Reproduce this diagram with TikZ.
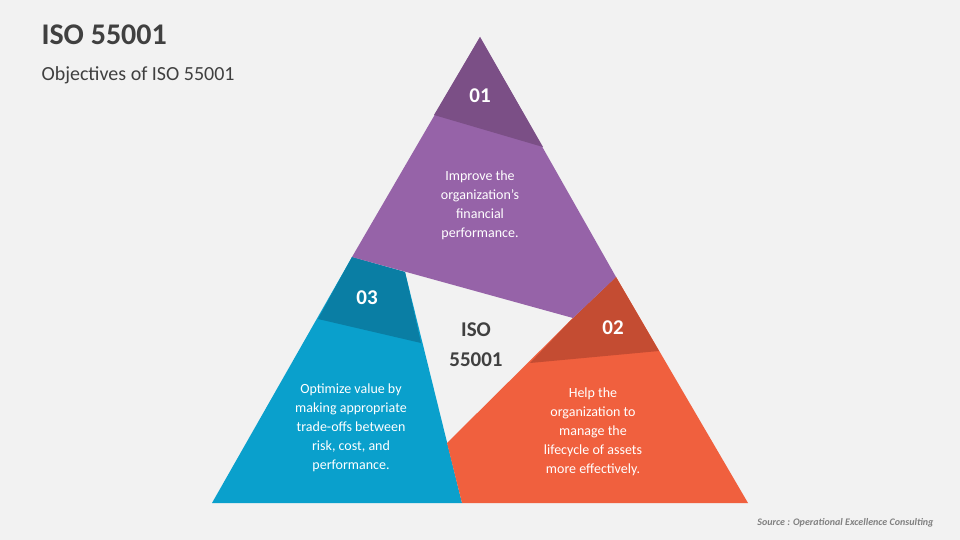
\documentclass[tikz,border=0pt]{standalone}
\usepackage{fontspec}
\setmainfont{Carlito}
\begin{document}
\begin{tikzpicture}[x=1pt,y=-1pt,
  body/.style={text=white,align=center,font=\fontsize{14}{19}\selectfont},
  num/.style={text=white,font=\bfseries\fontsize{21}{24}\selectfont}]
\definecolor{bg}{HTML}{F2F2F2}
\definecolor{pd}{HTML}{7B4F86}\definecolor{pl}{HTML}{9663A8}
\definecolor{bd}{HTML}{0A7EA4}\definecolor{bl}{HTML}{0AA0CC}
\definecolor{od}{HTML}{C44C32}\definecolor{ol}{HTML}{F0603E}
\definecolor{tx}{HTML}{404040}
\fill[bg] (0,0) rectangle (960,540);
\useasboundingbox (0,0) rectangle (960,540);
% blue
\fill[bl] (352,257) -- (405,272) -- (462,503) -- (212,503) -- cycle;
\fill[bd] (352,257) -- (405,272) -- (421,343) -- (318,319) -- cycle;
% orange
\fill[ol] (616,277) -- (748,503) -- (462,503) -- (447,443) -- (573,318) -- cycle;
\fill[od] (616,277) -- (659,351) -- (530,363) -- (573,318) -- cycle;
% purple
\fill[pl] (480,37) -- (616,277) -- (573,318) -- (352,257) -- cycle;
\fill[pd] (480,37) -- (543,147) -- (434,115) -- cycle;
\node[anchor=west,text=tx,font=\bfseries\fontsize{30}{34}\selectfont] (title) at (38,35) {ISO 55001};
\node[anchor=west,text=tx,font=\fontsize{20}{24}\selectfont] (sub) at (38,75) {Objectives of ISO 55001};
\node[num] (n1) at (480,96) {01};
\node[num] (n2) at (613,328) {02};
\node[num] (n3) at (367,298) {03};
\node[text=tx,align=center,font=\bfseries\fontsize{21}{30}\selectfont] (c) at (476,345) {ISO\\55001};
\node[body] (t1) at (480,205) {Improve the\\organization’s\\financial\\performance.};
\node[body] (t3) at (351,428) {Optimize value by\\making appropriate\\trade-offs between\\risk, cost, and\\performance.};
\node[body] (t2) at (593,432) {Help the\\organization to\\manage the\\lifecycle of assets\\more effectively.};
\node[anchor=east,text=gray,font=\bfseries\itshape\fontsize{10}{12}\selectfont] (src) at (937,523) {Source : Operational Excellence Consulting};
\end{tikzpicture}
\end{document}
